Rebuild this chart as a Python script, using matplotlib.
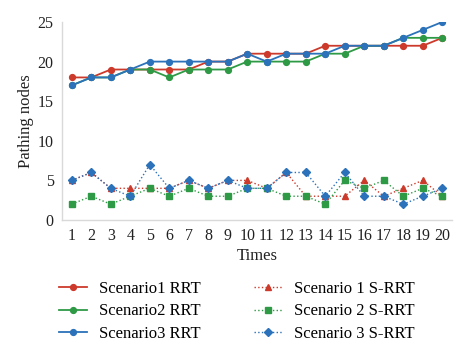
import matplotlib
matplotlib.use("Agg")
import matplotlib.pyplot as plt

times = list(range(1, 21))
s1_rrt = [18, 18, 19, 19, 19, 19, 19, 20, 20, 21, 21, 21, 21, 22, 22, 22, 22, 22, 22, 23]
s2_rrt = [17, 18, 18, 19, 19, 18, 19, 19, 19, 20, 20, 20, 20, 21, 21, 22, 22, 23, 23, 23]
s3_rrt = [17, 18, 18, 19, 20, 20, 20, 20, 20, 21, 20, 21, 21, 21, 22, 22, 22, 23, 24, 25]
s1_srrt = [5, 6, 4, 4, 4, 4, 5, 4, 5, 5, 4, 6, 3, 3, 3, 5, 3, 4, 5, 3]
s2_srrt = [2, 3, 2, 3, 4, 3, 4, 3, 3, 4, 4, 3, 3, 2, 5, 4, 5, 3, 4, 3]
s3_srrt = [5, 6, 4, 3, 7, 4, 5, 4, 5, 4, 4, 6, 6, 3, 6, 3, 3, 2, 3, 4]
yticks = [0, 5, 10, 15, 20, 25]

red = "#cc3a2b"
green = "#2f9a46"
blue = "#2b72ba"

plt.rcParams['font.family'] = ['Liberation Serif', 'DejaVu Serif']

fig = plt.figure(figsize=(4.74, 3.56), dpi=100)
ax = fig.add_axes([62/474, 1-220/356, (452-62)/474, (220-22)/356])

ax.plot(times, s1_rrt, '-', color=red, marker='o', ms=4.2, lw=1.3, label='Scenario1 RRT')
ax.plot(times, s2_rrt, '-', color=green, marker='o', ms=4.2, lw=1.3, label='Scenario2 RRT')
ax.plot(times, s3_rrt, '-', color=blue, marker='o', ms=4.2, lw=1.3, label='Scenario3 RRT')
ax.plot(times, s1_srrt, ':', color=red, marker='^', ms=4.5, lw=1.0, label='Scenario 1 S-RRT')
ax.plot(times, s2_srrt, ':', color=green, marker='s', ms=4.2, lw=1.0, label='Scenario 2 S-RRT')
ax.plot(times, s3_srrt, ':', color=blue, marker='D', ms=3.8, lw=1.0, label='Scenario 3 S-RRT')

ax.set_xlim(0.5, 20.5)
ax.set_ylim(0, 25)
ax.set_xticks(times)
ax.set_yticks(yticks)
ax.tick_params(length=0, labelsize=11.5, colors='#222222', pad=6)
for s in ['top', 'right']:
    ax.spines[s].set_visible(False)
for s in ['left', 'bottom']:
    ax.spines[s].set_color('#d9d9d9')
    ax.spines[s].set_linewidth(1)

ax.set_xlabel('Times', fontsize=12, color='#222222', labelpad=3)
ax.set_ylabel('Pathing nodes', fontsize=12, color='#222222', labelpad=3)

leg = fig.legend(loc='upper left', bbox_to_anchor=(52/474, 1-274/356), ncol=2,
                 frameon=False, fontsize=12, handlelength=1.7, handletextpad=0.7,
                 columnspacing=3.2, labelspacing=0.4, borderaxespad=0)

fig.savefig('out.png', dpi=100)
